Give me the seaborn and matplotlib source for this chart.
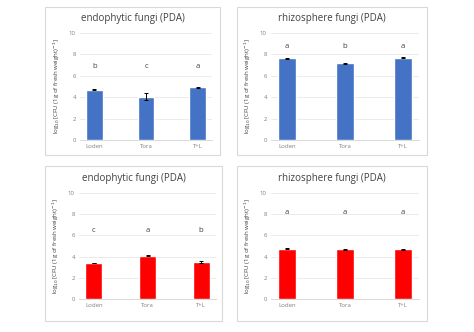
import matplotlib
matplotlib.use("Agg")
import matplotlib.pyplot as plt
import seaborn as sns
import pandas as pd
from matplotlib.patches import Rectangle

sns.set_theme(style="white")
plt.rcParams['font.family'] = ['Open Sans', 'DejaVu Sans']

categories = ["Loden", "Tora", "T+L"]
titles = ["endophytic fungi (PDA)", "rhizosphere fungi (PDA)",
          "endophytic fungi (PDA)", "rhizosphere fungi (PDA)"]
vals_endo_blue = [4.68, 4.05, 4.92]
err_endo_blue = [0.05, 0.3, 0.06]
let_endo_blue = ["b", "c", "a"]
vals_rhizo_blue = [7.63, 7.17, 7.69]
err_rhizo_blue = [0.05, 0.05, 0.05]
let_rhizo_blue = ["a", "b", "a"]
vals_endo_red = [3.4, 4.1, 3.5]
err_endo_red = [0.04, 0.05, 0.1]
let_endo_red = ["c", "a", "b"]
vals_rhizo_red = [4.75, 4.7, 4.7]
err_rhizo_red = [0.04, 0.04, 0.04]
let_rhizo_red = ["a", "a", "a"]
letter_y = [6.9, 8.7, 6.5, 8.2]
yticks = [0, 2, 4, 6, 8, 10]

W, H = 474, 332
fig = plt.figure(figsize=(W / 100, H / 100), dpi=100)

boxes = [(45, 7, 220, 155), (237, 7, 427, 155), (45, 166, 222, 321), (237, 166, 427, 321)]
axes_px = [(80, 33, 212, 140), (271, 33, 419, 140), (79, 193, 216, 299), (271, 193, 419, 299)]
title_y = [19, 19, 178, 179]
data = [(vals_endo_blue, err_endo_blue, let_endo_blue, "#4472C4"),
        (vals_rhizo_blue, err_rhizo_blue, let_rhizo_blue, "#4472C4"),
        (vals_endo_red, err_endo_red, let_endo_red, "#FF0000"),
        (vals_rhizo_red, err_rhizo_red, let_rhizo_red, "#FF0000")]

for i in range(4):
    bl, bt, br, bb = boxes[i]
    fig.patches.append(Rectangle((bl / W, 1 - bb / H), (br - bl) / W, (bb - bt) / H,
                                 transform=fig.transFigure, fill=False,
                                 edgecolor="#D9D9D9", linewidth=0.8))
    fig.text((bl + br) / 2 / W, 1 - title_y[i] / H, titles[i], ha="center", va="center",
             fontsize=7, color="#404040")
    al, at, ar, ab = axes_px[i]
    ax = fig.add_axes([al / W, 1 - ab / H, (ar - al) / W, (ab - at) / H])
    vals, errs, lets, col = data[i]
    df = pd.DataFrame({"cat": categories, "val": vals})
    sns.barplot(data=df, x="cat", y="val", color=col, width=0.32, ax=ax,
                saturation=1, zorder=3)
    ax.errorbar(range(3), vals, yerr=errs, fmt="none", ecolor="black",
                elinewidth=0.7, capsize=1.2, capthick=0.7, zorder=4)
    for j, l in enumerate(lets):
        ax.text(j, letter_y[i], l, ha="center", va="center", fontsize=5.5, color="#404040")
    ax.set_ylim(0, 10)
    ax.set_yticks(yticks)
    ax.grid(axis="y", color="#EBEBEB", linewidth=0.7, zorder=0)
    ax.set_axisbelow(True)
    for s in ["top", "right", "left"]:
        ax.spines[s].set_visible(False)
    ax.spines["bottom"].set_color("#D9D9D9")
    ax.spines["bottom"].set_linewidth(0.7)
    ax.tick_params(axis="both", labelsize=4.3, colors="#7F7F7F", length=0, pad=3)
    ax.set_xlabel("")
    ax.set_ylabel(r"log$_{10}$ [CFU (1g of fresh weight)$^{-1}$]", fontsize=4.4,
                  color="#404040", labelpad=5)

fig.savefig("out.png", dpi=100, facecolor="white")
